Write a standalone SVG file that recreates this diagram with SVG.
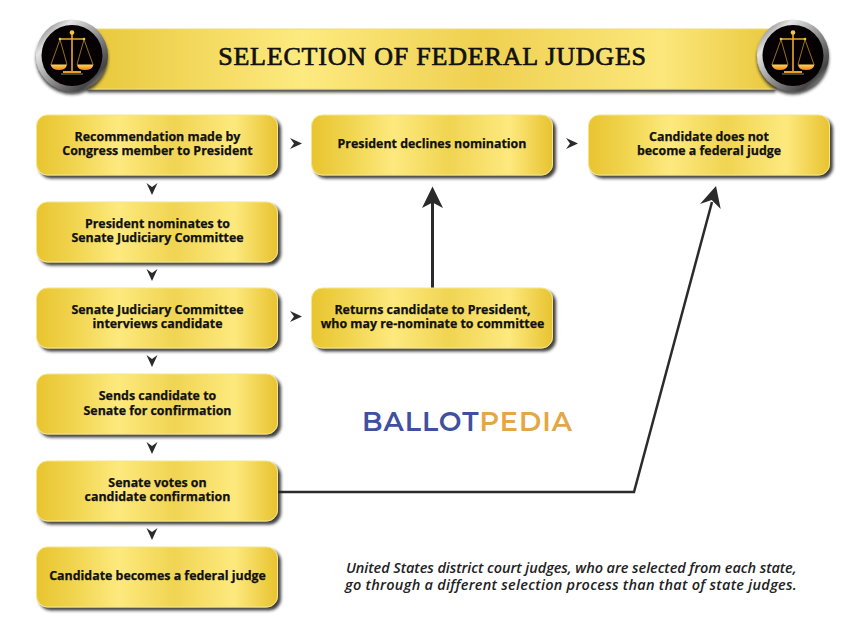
<svg xmlns="http://www.w3.org/2000/svg" width="864" height="633" viewBox="0 0 864 633">
<style>
.t{font-family:"Open Sans","Noto Sans",sans-serif;font-weight:700;font-size:12.4px;fill:#111;stroke:#111;stroke-width:.25px;text-anchor:middle}
.b{fill:url(#gold);stroke:#f6e68a;stroke-width:1}
.n{font-family:"Open Sans",sans-serif;font-style:italic;font-weight:600;font-size:14.5px;fill:#222}
.ln{fill:none;stroke:#2b2b2b}
.ch{fill:#2b2b2b}
</style>
<defs>
<linearGradient id="gold" x1="0" x2="1" y1="0" y2="0">
<stop offset="0" stop-color="#e8c42f"/><stop offset=".16" stop-color="#f1d550"/><stop offset=".34" stop-color="#fde97e"/><stop offset=".57" stop-color="#f0d452"/><stop offset=".82" stop-color="#fde97e"/><stop offset="1" stop-color="#e8c330"/>
</linearGradient>
<linearGradient id="bar" gradientUnits="userSpaceOnUse" x1="88" x2="780" y1="0" y2="0">
<stop offset="0" stop-color="#e8c73a"/><stop offset=".31" stop-color="#fdea80"/><stop offset=".57" stop-color="#efd050"/><stop offset=".83" stop-color="#fce77c"/><stop offset="1" stop-color="#e8c73a"/>
</linearGradient>
<linearGradient id="ring" x1="0" x2="1" y1="0" y2="1">
<stop offset="0" stop-color="#4a4a4a"/><stop offset=".25" stop-color="#e6e6e6"/><stop offset=".55" stop-color="#8a8a8a"/><stop offset=".8" stop-color="#444"/><stop offset="1" stop-color="#ddd"/>
</linearGradient>
<linearGradient id="sc" x1="0" x2="0" y1="0" y2="1"><stop offset="0" stop-color="#ffd75a"/><stop offset="1" stop-color="#e8860f"/></linearGradient>
<filter id="sh" x="-10%" y="-20%" width="125%" height="150%"><feDropShadow dx="3" dy="3" stdDeviation="1.6" flood-color="#222" flood-opacity=".85"/></filter>
<filter id="shb" x="-5%" y="-20%" width="110%" height="150%"><feDropShadow dx="0" dy="3" stdDeviation="1.5" flood-color="#222" flood-opacity=".8"/></filter>
<g id="scales">
<circle r="36" fill="url(#ring)" filter="url(#shb)"/>
<circle r="30.500" fill="#060203"/>
<path d="M-12-16.500H12M0-22V16" stroke="#e8a92a" stroke-width="1.600" fill="none"/>
<path d="M-12-16-21 9M-12-16-5 9M12-16 5 9M12-16 21 9" stroke="#b98a25" stroke-width=".8" fill="none"/>
<circle cy="-23" r="2.300" fill="#f5c445"/>
<circle cx="-12" cy="-16.500" r="1.300" fill="#f5c445"/><circle cx="12" cy="-16.500" r="1.300" fill="#f5c445"/>
<path d="M-21.500 9H-5Q-6 14.500-13 14.500T-21.500 9ZM5 9H21.500Q20.500 14.500 13 14.500T5 9Z" fill="url(#sc)"/>
<path d="M-9 15.500H9V17.500H-9Z" fill="#f0a020"/>
<path d="M-11 17.500H11V19.500H-11Z" fill="#444"/>
</g>
</defs>
<g id="title">
<rect x="88" y="29" width="687" height="60" fill="url(#bar)" stroke="#f0dc80" filter="url(#shb)"/>
<text x="432.500" y="65" text-anchor="middle" font-family="'Liberation Serif',serif" font-size="26" letter-spacing=".8" stroke="#111" stroke-width=".7" fill="#111">SELECTION OF FEDERAL JUDGES</text>
</g>
<g id="seal-left"><use href="#scales" x="72" y="55.500"/></g>
<g id="seal-right"><use href="#scales" x="793" y="55.500"/></g>
<g id="connectors">
<path class="ch" d="M290 138l12 5.500-12 5.500 4-5.500z"/>
<path class="ch" d="M566 138l12 5.500-12 5.500 4-5.500z"/>
<path class="ch" d="M290 311l12 5.500-12 5.500 4-5.500z"/>
<path class="ch" d="M146.500 183l5.500 4 5.500-4-5.500 12z"/>
<path class="ch" d="M146.500 269l5.500 4 5.500-4-5.500 12z"/>
<path class="ch" d="M146.500 355l5.500 4 5.500-4-5.500 12z"/>
<path class="ch" d="M146.500 442l5.500 4 5.500-4-5.500 12z"/>
<path class="ch" d="M146.500 528l5.500 4 5.500-4-5.500 12z"/>
<path class="ln" stroke-width="3" d="M432.500 288V200"/>
<path class="ch" d="M432.500 186.500l10.500 21.500-10.500-5.500-10.500 5.500z"/>
<path class="ln" stroke-width="2.500" d="M278 492H634L712 202"/>
<path class="ch" d="M716 186l4.700 23-9-9-11.700 4z"/>
</g>
<g id="n1"><rect class="b" x="36.500" y="115" width="241" height="60" rx="11" filter="url(#sh)"/><text class="t"><tspan x="157.500" y="141">Recommendation made by</tspan><tspan x="157.500" y="155">Congress member to President</tspan></text></g>
<g id="n2"><rect class="b" x="36.500" y="202" width="241" height="60" rx="11" filter="url(#sh)"/><text class="t"><tspan x="157.500" y="228">President nominates to</tspan><tspan x="157.500" y="242">Senate Judiciary Committee</tspan></text></g>
<g id="n3"><rect class="b" x="36.500" y="288" width="241" height="60" rx="11" filter="url(#sh)"/><text class="t"><tspan x="157.500" y="314">Senate Judiciary Committee</tspan><tspan x="157.500" y="328">interviews candidate</tspan></text></g>
<g id="n4"><rect class="b" x="36.500" y="374" width="241" height="60" rx="11" filter="url(#sh)"/><text class="t"><tspan x="157.500" y="400">Sends candidate to</tspan><tspan x="157.500" y="415">Senate for confirmation</tspan></text></g>
<g id="n5"><rect class="b" x="36.500" y="461" width="241" height="60" rx="11" filter="url(#sh)"/><text class="t"><tspan x="157.500" y="487">Senate votes on</tspan><tspan x="157.500" y="501">candidate confirmation</tspan></text></g>
<g id="n6"><rect class="b" x="36.500" y="547" width="241" height="60" rx="11" filter="url(#sh)"/><text class="t" x="157.500" y="580">Candidate becomes a federal judge</text></g>
<g id="n7"><rect class="b" x="311.500" y="115" width="241" height="60" rx="11" filter="url(#sh)"/><text class="t" x="432" y="148">President declines nomination</text></g>
<g id="n8"><rect class="b" x="311.500" y="288" width="241" height="60" rx="11" filter="url(#sh)"/><text class="t"><tspan x="432.500" y="314">Returns candidate to President,</tspan><tspan x="432.500" y="328">who may re-nominate to committee</tspan></text></g>
<g id="n9"><rect class="b" x="588.500" y="115" width="241" height="60" rx="11" filter="url(#sh)"/><text class="t"><tspan x="709" y="141">Candidate does not</tspan><tspan x="709" y="155">become a federal judge</tspan></text></g>
<text id="logo" x="362" y="431" font-family="Montserrat,'Open Sans',sans-serif" font-size="27" font-weight="600" letter-spacing="1"><tspan fill="#3f50a0">BALLOT</tspan><tspan fill="#e3a845">PEDIA</tspan></text>
<text id="note" class="n"><tspan x="346" y="573" letter-spacing="-.07">United States district court judges, who are selected from each state,</tspan><tspan x="345" y="590" letter-spacing=".27">go through a different selection process than that of state judges.</tspan></text>
</svg>
